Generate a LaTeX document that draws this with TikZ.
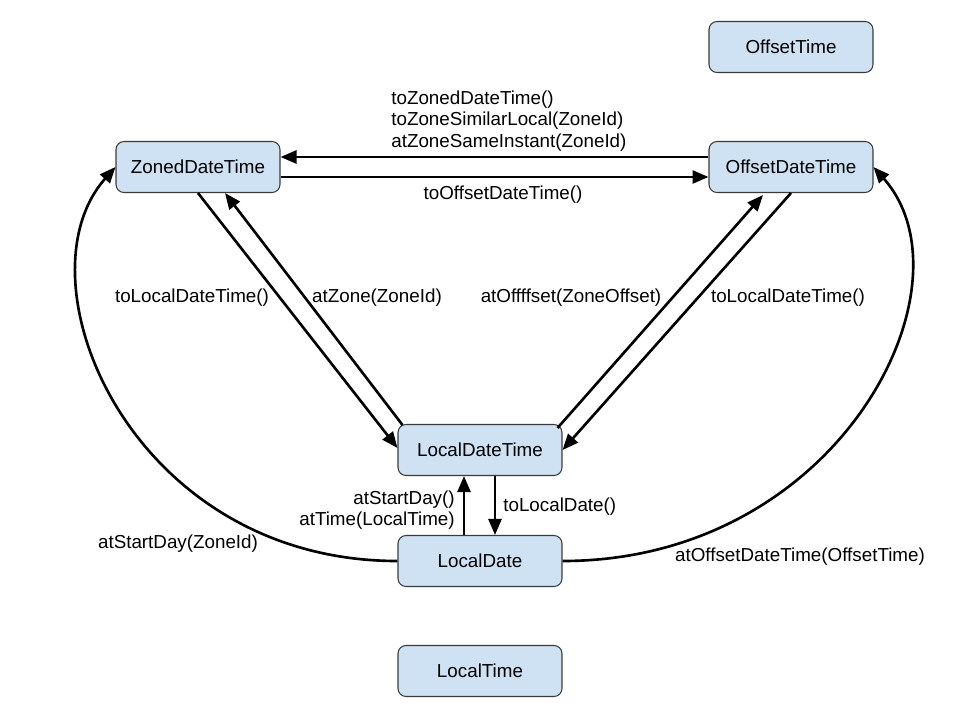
\documentclass[tikz,border=0pt]{standalone}
\usepackage{fontspec}
\setmainfont{Liberation Sans}
\usetikzlibrary{arrows.meta,calc}
\definecolor{boxfill}{HTML}{CFE2F3}
\definecolor{boxline}{HTML}{3A3A3A}

\begin{document}
\begin{tikzpicture}[x=0.02cm,y=-0.02cm,
    font=\fontsize{10.7}{12.2}\selectfont,
    typebox/.style={draw=boxline,fill=boxfill,rounded corners=0.16cm,line width=0.6pt,
      minimum width=3.28cm,minimum height=1.02cm,inner sep=0pt},
    conv/.style={-{Triangle[length=0.32cm,width=0.26cm]},line width=1.5pt},
    lbl/.style={inner sep=0pt}]
  \useasboundingbox (0,0) rectangle (960,720);
  % the java.time types
  \node[typebox] (ot)  at (791,47)  {OffsetTime};
  \node[typebox] (zdt) at (198,167) {ZonedDateTime};
  \node[typebox] (odt) at (791,167) {OffsetDateTime};
  \node[typebox] (ldt) at (480,450) {LocalDateTime};
  \node[typebox] (ld)  at (480,561) {LocalDate};
  \node[typebox] (lt)  at (480,671) {LocalTime};
  % zoned <-> offset
  \draw[conv] ($(odt.west)+(0,-10)$) -- ($(zdt.east)+(0,-10)$);
  \draw[conv] ($(zdt.east)+(0,10)$) -- ($(odt.west)+(0,10)$);
  \node[lbl,align=left,anchor=west] (zo) at (391,121) {toZonedDateTime()\\toZoneSimilarLocal(ZoneId)\\atZoneSameInstant(ZoneId)};
  \node[lbl] (oz) at (503,195) {toOffsetDateTime()};
  % zoned <-> local date-time
  \draw[conv] (zdt.south) -- ($(ldt.west)+(0,-2)$);
  \draw[conv] ($(ldt.north west)+(5,1)$) -- ($(zdt.south)+(27,0)$);
  \node[lbl] (zl) at (192,298) {toLocalDateTime()};
  \node[lbl] (lz) at (377,298) {atZone(ZoneId)};
  % offset <-> local date-time
  \draw[conv] ($(ldt.north east)+(-5,4)$) -- ($(odt.south)+(-28,2)$);
  \draw[conv] (odt.south) -- (ldt.east);
  \node[lbl] (lo) at (571,298) {atOffffset(ZoneOffset)};
  \node[lbl] (ol) at (788,298) {toLocalDateTime()};
  % local date <-> local date-time
  \draw[conv] ($(ld.north)+(-16,0)$) -- ($(ldt.south)+(-16,0)$);
  \draw[conv] ($(ldt.south)+(15,0)$) -- ($(ld.north)+(15,0)$);
  \node[lbl,align=right,anchor=east] (dl) at (455,510) {atStartDay()\\atTime(LocalTime)};
  \node[lbl,anchor=west] (ldd) at (503,507) {toLocalDate()};
  % the long way round
  \draw[conv] (ld.west) .. controls (130,561) and (15,280) .. (zdt.west);
  \draw[conv] (ld.east) .. controls (840,561) and (978,285) .. (odt.east);
  \node[lbl] (dz) at (178,544) {atStartDay(ZoneId)};
  \node[lbl] (do) at (800,557) {atOffsetDateTime(OffsetTime)};
\end{tikzpicture}
\end{document}
